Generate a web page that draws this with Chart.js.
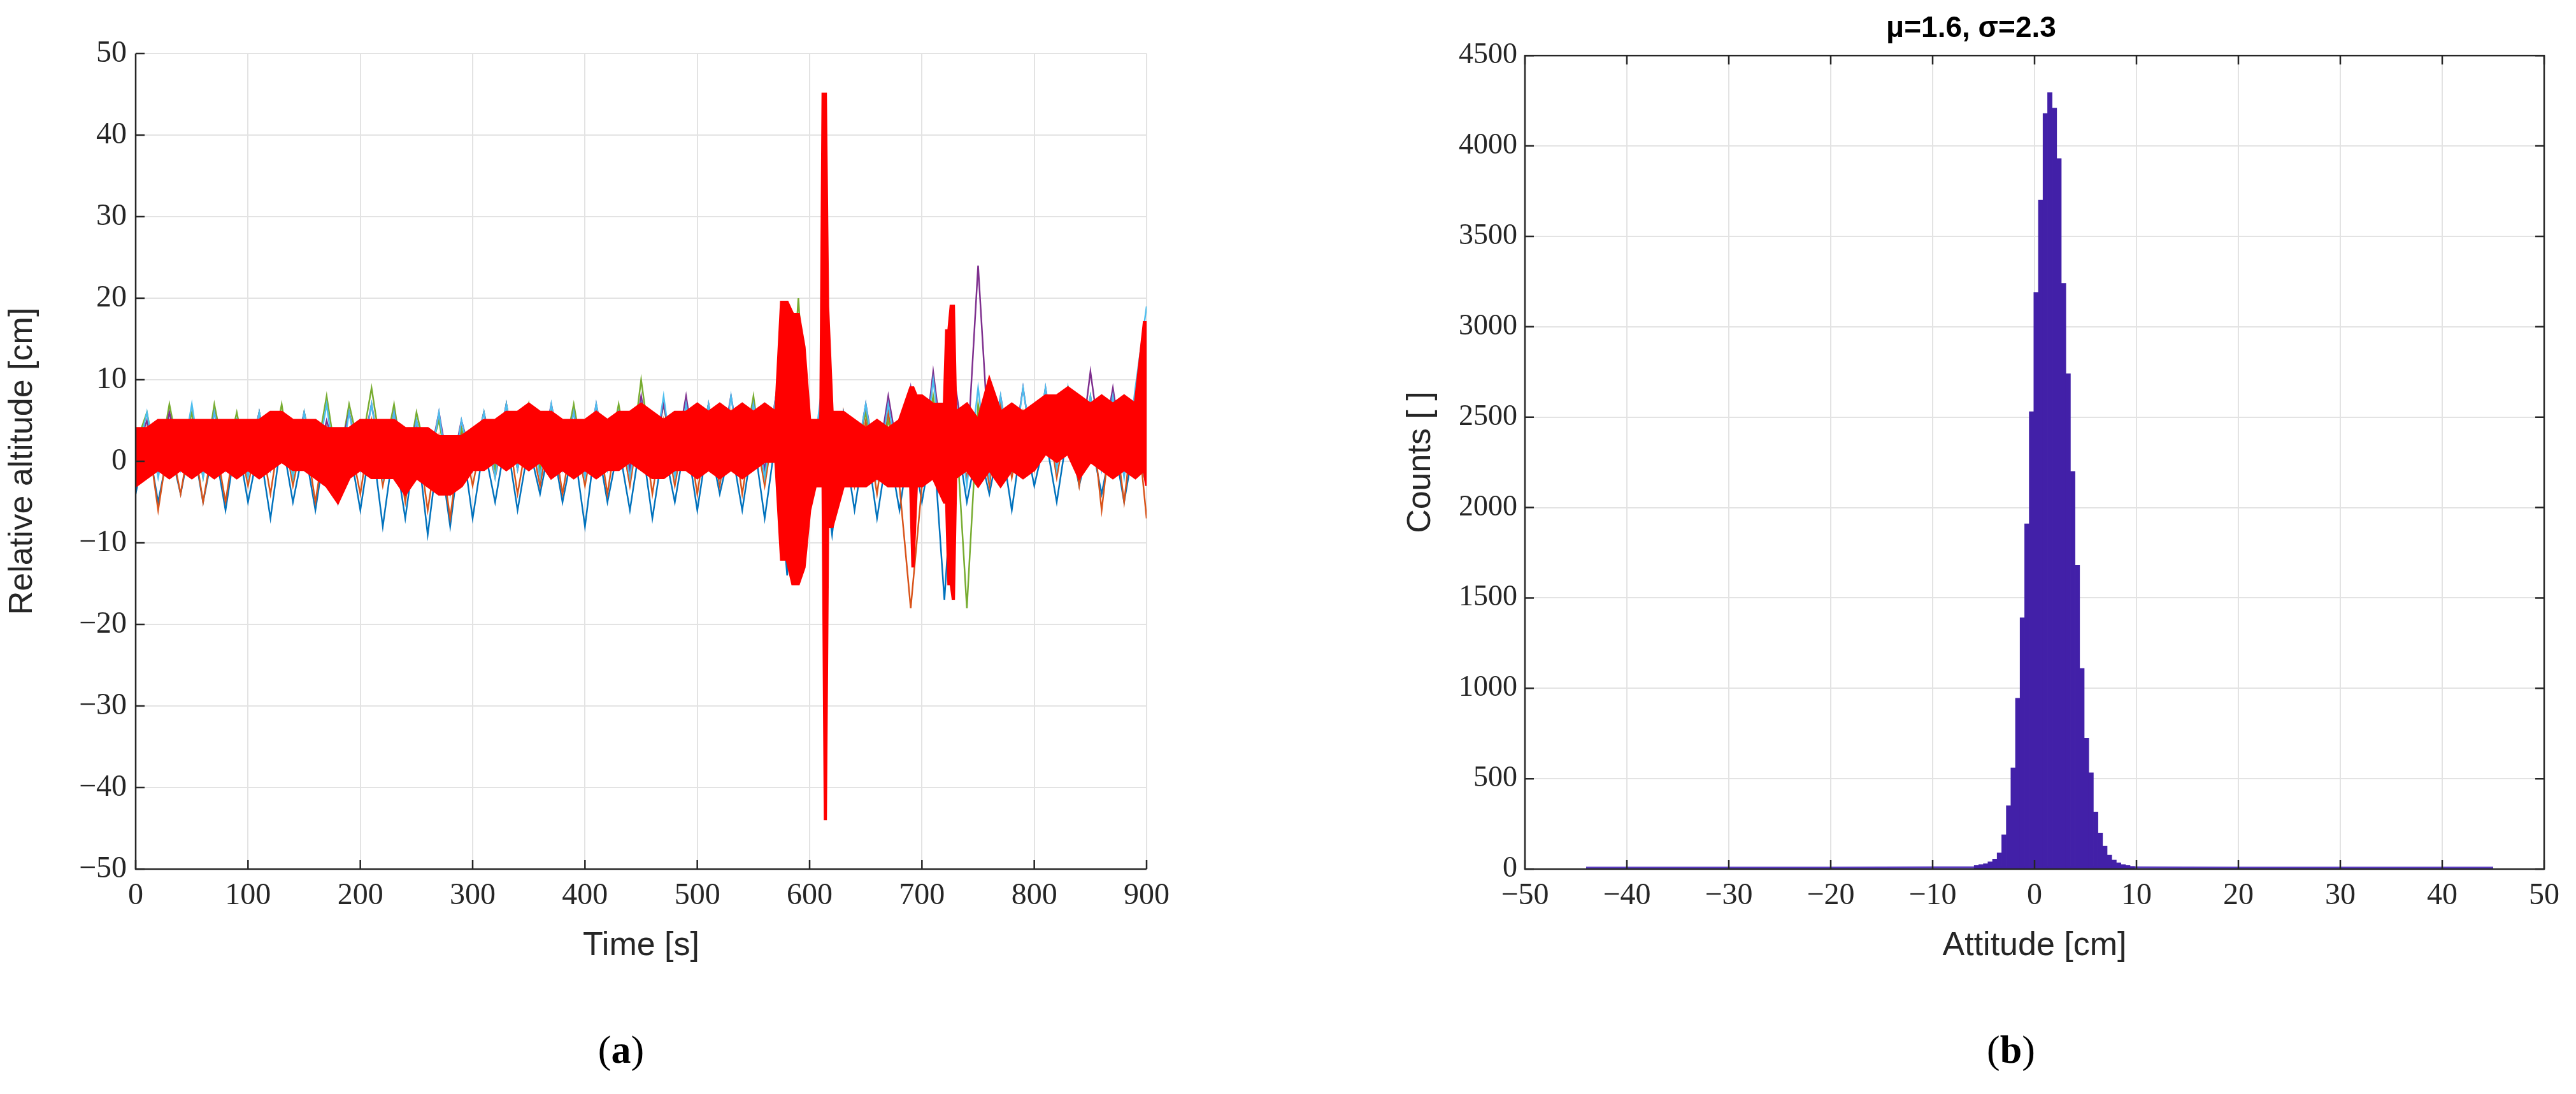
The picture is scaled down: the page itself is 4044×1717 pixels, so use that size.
<!DOCTYPE html>
<html><head><meta charset="utf-8">
<script src="https://cdn.jsdelivr.net/npm/chart.js@4"></script>
<style>
body{margin:0;width:4044px;height:1717px;background:#fff;position:relative;overflow:hidden}
.c{position:absolute}
.lab{position:absolute;font-family:"Liberation Serif",serif;font-size:62px;color:#000;transform:translateX(-50%)}
</style></head><body>
<div class="c" style="left:0;top:0;width:1850px;height:1520px"><canvas id="a"></canvas></div>
<div class="c" style="left:2195px;top:0;width:1849px;height:1520px"><canvas id="b"></canvas></div>
<div class="lab" style="left:975px;top:1612px">(<b>a</b>)</div>
<div class="lab" style="left:3157px;top:1612px">(<b>b</b>)</div>
<script>
// ---- data (a) ----
const redTime=[0,10,20,30,40,50,60,70,80,90,100,110,120,130,140,150,160,170,180,190,200,210,220,230,240,250,260,270,280,290,300,310,320,330,340,350,360,370,380,390,400,410,420,430,440,450,460,470,480,490,500,510,520,530,540,550,560,570,575,580,585,590,595,600,605,610,612,614,616,620,630,640,650,660,670,680,690,692,695,700,710,720,722,724,726,728,730,740,750,760,770,780,790,800,810,820,830,840,850,860,870,880,890,898,900];
const redHigh=[4,4,5,5,5,5,5,5,5,5, 5,5,6,6,5,5,5,4,4,4, 5,5,5,5,4,4,4,3,3,3, 4,5,5,6,6,7,6,6,5,5, 5,6,5,6,6,7,6,5,6,6, 7,6,7,6,7,6,7,6,
 19.5,19.5,18,18,14,5,5,5,45,45,19,6,
 6,5,4,5,4,5,9,9,8,8,7,7,16,16,19,19,
 6,7,5,10,6,7,6,7,8,8,9,8,7,8,7,8,7, 17,17];
const redLow=[-3,-2,-1,-2,-1,-2,-1,-2,-1,-2, -1,-2,-1,0,-1,-1,-2,-3,-5,-2, -1,-2,-2,-2,-4,-2,-3,-4,-4,-3, -1,-1,0,-1,0,-1,0,-2,-1,-2, -1,-2,-1,-1,0,-1,-2,-2,-1,-1, -2,-1,-2,-1,-2,-1,0,0,
 -12,-12,-15,-15,-13,-6,-3,-3,-3,-44,-8,-8,
 -3,-3,-3,-2,-3,-3,-3,-13,-3,-3,-2,-5,-5,-15,-15,-17,
 -2,-1,-3,-1,-3,-1,-2,-1,1,0,1,-2,0,-1,-2,-1,-2, -1,-3];
const time10=[0,10,20,30,40,50,60,70,80,90,100,110,120,130,140,150,160,170,180,190,200,210,220,230,240,250,260,270,280,290,300,310,320,330,340,350,360,370,380,390,400,410,420,430,440,450,460,470,480,490,500,510,520,530,540,550,560,570,580,590,600,610,620,630,640,650,660,670,680,690,700,710,720,730,740,750,760,770,780,790,800,810,820,830,840,850,860,870,880,890,900];
const blueAlt=[-4,3,-5,2,-4,3,-5,2,-6,3, -5,2,-7,3,-5,2,-6,3,-5,2, -6,3,-8,2,-7,3,-9,2,-8,3, -7,2,-5,3,-6,2,-4,3,-5,2, -8,3,-5,2,-6,3,-7,2,-5,3, -6,3,-4,2,-6,3,-7,3,-14,3, -6,2,-9,3,-6,3,-7,2,-6,3, -5,3,-17,4,-5,2,-4,3,-6,4, -3,3,-5,4,-3,3,-4,3,-5,3, -3];
const greenAlt=[2,6,-1,7,0,6,-2,7,0,6, -1,6,0,7,-2,6,0,8,-1,7, 1,9,0,7,-2,6,0,5,-3,4, 0,6,-1,7,0,7,-1,6,0,7, -1,6,0,7,-1,10,0,7,-1,6, 0,7,-1,6,0,8,-2,6,-1,20, -3,6,-2,5,0,6,-2,5,-1,6, 0,8,-2,5,-18,7,0,6,-1,6, 1,8,0,9,1,8,0,7,1,6, 2];
const purpleAlt=[1,5,-1,6,0,5,-1,6,0,5, 0,6,-1,5,0,6,-1,5,0,6, 0,7,-1,6,0,5,-1,6,-2,5, 0,6,0,7,-1,6,0,7,0,6, -1,7,0,6,-1,8,0,7,0,8, -1,7,0,8,0,7,-1,8,0,9, -2,7,0,6,-1,7,-1,8,0,9, -1,11,0,9,0,24,1,8,0,9, 0,9,1,8,0,11,1,9,0,8, 1];
const cyanAlt=[0,6,-2,5,-1,7,-2,6,-1,5, -2,6,-1,5,-2,6,-1,7,-3,6, -1,7,-2,6,-3,5,-2,6,-4,5, -1,6,-2,7,-1,6,-2,7,-1,6, -2,7,-1,6,-2,7,-1,8,-2,7, -1,7,-2,8,-1,7,-2,8,-2,8, -3,8,-2,6,-1,7,-2,7,-1,7, -2,10,-1,8,-3,9,-2,8,-1,9, 0,9,-1,9,0,8,-1,8,-2,9, 19];
const orangeAlt=[-3,4,-6,3,-4,4,-5,3,-5,4, -3,4,-4,5,-3,4,-5,4,-4,3, -4,5,-3,4,-5,4,-6,3,-7,4, -3,4,-2,5,-4,4,-3,5,-4,4, -3,5,-4,5,-3,6,-4,5,-3,5, -4,5,-3,6,-4,5,-3,6,-4,5, -5,5,-4,6,-3,5,-4,6,-3,-18, -3,6,-4,5,-2,6,-3,7,-2,6, -1,7,-2,6,-3,7,-6,6,-5,7, -7];
const timeTicks=[0,100,200,300,400,500,600,700,800,900];
// ---- data (b) ----
const binCenters=[-5.7,-5.25,-4.8,-4.35,-3.9,-3.45,-3.0,-2.55,-2.1,-1.65,-1.2,-0.75,-0.3,0.15,0.6,1.05,1.5,1.95,2.4,2.85,3.3,3.75,4.2,4.65,5.1,5.55,6.0,6.45,6.9,7.35,7.8,8.25,8.7,9.15,9.6];
const binCounts=[20,25,30,40,55,90,190,350,560,945,1390,1910,2530,3190,3700,4180,4295,4210,3930,3240,2740,2200,1680,1110,725,533,316,200,127,77,50,35,25,20,15];
const tailX=[-44,-20,-10,10,20,45];
const tailY=[8,8,10,10,8,8];

const pts=(xs,ys)=>xs.map((x,i)=>({x:x,y:ys[i]}));
const minus=v=>String(v).replace('-','\u2212');
const tickFont={family:'"Liberation Serif", serif',size:48};
const tickFontB={family:'"Liberation Serif", serif',size:46};
const titleFont={family:'"Liberation Sans", Arial, sans-serif',size:52};
const grid={color:'#e3e3e3',lineWidth:2,drawTicks:false};

const frame={id:'frame',afterDraw(c,a,o){const ca=c.chartArea,x=c.ctx;x.save();x.strokeStyle='#262626';x.lineWidth=2.5;x.beginPath();
 if(o.box){x.strokeRect(ca.left,ca.top,ca.right-ca.left,ca.bottom-ca.top);}
 else{x.moveTo(ca.left,ca.top);x.lineTo(ca.left,ca.bottom);x.lineTo(ca.right,ca.bottom);x.stroke();}
 x.beginPath();const L=14;
 c.scales.x.ticks.forEach((t,i)=>{const p=c.scales.x.getPixelForTick(i);x.moveTo(p,ca.bottom);x.lineTo(p,ca.bottom-L);if(o.box){x.moveTo(p,ca.top);x.lineTo(p,ca.top+L);}});
 c.scales.y.ticks.forEach((t,i)=>{const p=c.scales.y.getPixelForTick(i);x.moveTo(ca.left,p);x.lineTo(ca.left+L,p);if(o.box){x.moveTo(ca.right,p);x.lineTo(ca.right-L,p);}});
 x.stroke();x.restore();}};

const line=(xs,ys,col,w)=>({data:pts(xs,ys),borderColor:col,borderWidth:w,pointRadius:0,tension:0,fill:false});
const redHi=Object.assign(line(redTime,redHigh,'#ff0000',5),{fill:'+1',backgroundColor:'#ff0000'});
const redLo=line(redTime,redLow,'#ff0000',5);
new Chart(document.getElementById('a'),{type:'line',
 data:{datasets:[redHi,redLo,line(time10,cyanAlt,'#4DBEEE',2.5),line(time10,purpleAlt,'#7E2F8E',2.5),line(time10,greenAlt,'#77AC30',2.5),line(time10,orangeAlt,'#D95319',2.5),line(time10,blueAlt,'#0072BD',2.5)]},
 options:{responsive:true,maintainAspectRatio:false,animation:false,
  layout:{padding:{top:84,right:36,left:0,bottom:0}},
  plugins:{legend:{display:false},tooltip:{enabled:false},frame:{box:false}},
  scales:{
   x:{type:'linear',min:0,max:900,afterBuildTicks:s=>{s.ticks=timeTicks.map(v=>({value:v}));},
      ticks:{font:tickFont,color:'#262626',padding:14,callback:v=>minus(v),maxRotation:0},grid:grid,border:{display:false},
      title:{display:true,text:'Time [s]',font:titleFont,color:'#262626',padding:{top:10}},afterFit:s=>{s.height=156;}},
   y:{min:-50,max:50,ticks:{stepSize:10,font:tickFont,color:'#262626',padding:14,callback:v=>minus(v)},grid:grid,border:{display:false},
      title:{display:true,text:'Relative altitude [cm]',font:titleFont,color:'#262626',padding:{bottom:4}},afterFit:s=>{s.width=213;}}}},
 plugins:[frame]});

new Chart(document.getElementById('b'),{type:'bar',
 data:{datasets:[{type:'bar',data:pts(binCenters,binCounts),backgroundColor:'#4220A8',borderColor:'#4220A8',borderWidth:0,barPercentage:1,categoryPercentage:1,grouped:false},
  {type:'line',data:pts(tailX,tailY),borderColor:'#5a3cc0',borderWidth:3,pointRadius:0}]},
 options:{responsive:true,maintainAspectRatio:false,animation:false,
  layout:{padding:{top:0,right:50,left:0,bottom:0}},
  plugins:{legend:{display:false},tooltip:{enabled:false},frame:{box:true},
   title:{display:true,text:'\u03bc=1.6, \u03c3=2.3',font:{family:'"Liberation Sans", Arial, sans-serif',size:46,weight:'bold'},color:'#000',padding:{top:18,bottom:14}}},
  scales:{
   x:{type:'linear',offset:false,min:-50,max:50,ticks:{stepSize:10,font:tickFont,color:'#262626',padding:14,callback:v=>minus(v),maxRotation:0},grid:Object.assign({},grid,{offset:false}),border:{display:false},
      title:{display:true,text:'Attitude [cm]',font:titleFont,color:'#262626',padding:{top:10}},afterFit:s=>{s.height=156;}},
   y:{min:0,max:4500,ticks:{stepSize:500,font:tickFontB,color:'#262626',padding:12,callback:v=>String(v)},grid:grid,border:{display:false},
      title:{display:true,text:'Counts [ ]',font:titleFont,color:'#262626',padding:{bottom:4}},afterFit:s=>{s.width=199;}}}},
 plugins:[frame]});
</script></body></html>
